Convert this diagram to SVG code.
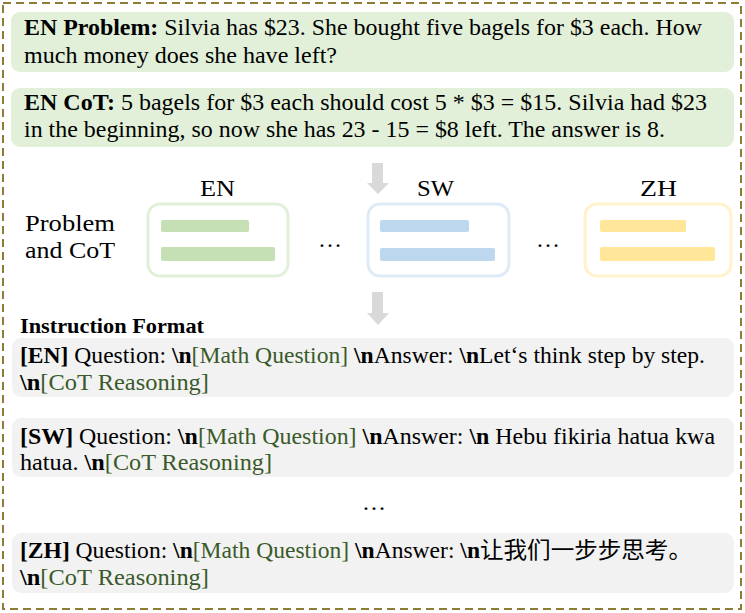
<svg xmlns="http://www.w3.org/2000/svg" width="745" height="613" viewBox="0 0 745 613">
<style>
text{font-family:"Liberation Serif","Times New Roman",serif;fill:#000}
.t{font-size:22.5px}
.b{font-weight:bold}
.g{fill:#3A5A2A}
.lab{font-size:24px}
.frame{fill:none;stroke:#8E7B35;stroke-width:2;stroke-dasharray:8 5}
.gbox{fill:#E2F0D9}
.grey{fill:#F2F2F2}
.arrow{fill:#D9D9D9}
</style>
<rect class="frame" x="3" y="3" width="738" height="606"/>
<g id="en-problem">
<rect class="gbox" x="11" y="12" width="723" height="60" rx="9"/>
<text class="t" x="24" y="35" textLength="678" lengthAdjust="spacingAndGlyphs"><tspan class="b">EN Problem:</tspan> Silvia has $23. She bought five bagels for $3 each. How</text>
<text class="t" x="24" y="63" textLength="313" lengthAdjust="spacingAndGlyphs">much money does she have left?</text>
</g>
<g id="en-cot">
<rect class="gbox" x="11" y="88" width="723" height="59" rx="9"/>
<text class="t" x="24" y="110" textLength="683" lengthAdjust="spacingAndGlyphs"><tspan class="b">EN CoT:</tspan> 5 bagels for $3 each should cost 5 * $3 = $15. Silvia had $23</text>
<text class="t" x="24" y="137" textLength="641" lengthAdjust="spacingAndGlyphs">in the beginning, so now she has 23 - 15 = $8 left. The answer is 8.</text>
</g>
<g id="connectors">
<path class="arrow" d="M372 163 H383 V183 H389 L378 194 L367 183 H372 Z"/>
<path class="arrow" d="M372 292 H383 V313 H389 L378 325 L367 313 H372 Z"/>
</g>
<g id="problem-label">
<text class="lab" x="25" y="231" textLength="90" lengthAdjust="spacingAndGlyphs">Problem</text>
<text class="lab" x="25" y="258" textLength="90" lengthAdjust="spacingAndGlyphs">and CoT</text>
</g>
<g id="lang-en">
<text class="lab" x="200" y="196" textLength="35" lengthAdjust="spacingAndGlyphs">EN</text>
<rect x="148" y="204" width="140" height="72" rx="12" fill="#fff" stroke="#E2F0D9" stroke-width="3"/>
<rect x="161" y="220" width="88" height="12" rx="2" fill="#C5E0B4"/>
<rect x="161" y="247" width="114" height="14" rx="2" fill="#C5E0B4"/>
</g>
<text class="lab" x="330" y="247" text-anchor="middle" font-size="26">…</text>
<g id="lang-sw">
<text class="lab" x="417" y="196" textLength="37" lengthAdjust="spacingAndGlyphs">SW</text>
<rect x="368" y="204" width="141" height="72" rx="12" fill="#fff" stroke="#DEEBF7" stroke-width="3"/>
<rect x="380" y="220" width="89" height="12" rx="2" fill="#BDD7EE"/>
<rect x="380" y="248" width="115" height="13" rx="2" fill="#BDD7EE"/>
</g>
<text class="lab" x="548" y="247" text-anchor="middle" font-size="26">…</text>
<g id="lang-zh">
<text class="lab" x="640" y="196" textLength="37" lengthAdjust="spacingAndGlyphs">ZH</text>
<rect x="585" y="204" width="146" height="72" rx="12" fill="#fff" stroke="#FFF2CC" stroke-width="3"/>
<rect x="600" y="220" width="86" height="12" rx="2" fill="#FFE699"/>
<rect x="600" y="247" width="115" height="14" rx="2" fill="#FFE699"/>
</g>
<g id="instruction-title">
<text x="20" y="333" class="b" font-size="21" textLength="184" lengthAdjust="spacingAndGlyphs">Instruction Format</text>
</g>
<g id="inst-en">
<rect class="grey" x="12" y="338" width="722" height="59" rx="9"/>
<text class="t" x="20" y="363" textLength="685" lengthAdjust="spacingAndGlyphs"><tspan class="b">[EN]</tspan> Question: <tspan class="b">\n</tspan><tspan class="g">[Math Question]</tspan> <tspan class="b">\n</tspan>Answer: <tspan class="b">\n</tspan>Let‘s think step by step.</text>
<text class="t" x="20" y="390" textLength="189" lengthAdjust="spacingAndGlyphs"><tspan class="b">\n</tspan><tspan class="g">[CoT Reasoning]</tspan></text>
</g>
<g id="inst-sw">
<rect class="grey" x="12" y="418" width="722" height="59" rx="9"/>
<text class="t" x="20" y="444" textLength="695" lengthAdjust="spacingAndGlyphs"><tspan class="b">[SW]</tspan> Question: <tspan class="b">\n</tspan><tspan class="g">[Math Question]</tspan> <tspan class="b">\n</tspan>Answer: <tspan class="b">\n</tspan> Hebu fikiria hatua kwa</text>
<text class="t" x="20" y="470" textLength="252" lengthAdjust="spacingAndGlyphs">hatua. <tspan class="b">\n</tspan><tspan class="g">[CoT Reasoning]</tspan></text>
</g>
<text class="lab" x="374" y="510" text-anchor="middle" font-size="26">…</text>
<g id="inst-zh">
<rect class="grey" x="12" y="533" width="722" height="60" rx="9"/>
<text class="t" x="20" y="558" textLength="672" lengthAdjust="spacingAndGlyphs" style="font-family:'Liberation Serif','Noto Sans CJK SC',serif"><tspan class="b">[ZH]</tspan> Question: <tspan class="b">\n</tspan><tspan class="g">[Math Question]</tspan> <tspan class="b">\n</tspan>Answer: <tspan class="b">\n</tspan>让我们一步步思考。</text>
<text class="t" x="20" y="585" textLength="189" lengthAdjust="spacingAndGlyphs"><tspan class="b">\n</tspan><tspan class="g">[CoT Reasoning]</tspan></text>
</g>
</svg>
